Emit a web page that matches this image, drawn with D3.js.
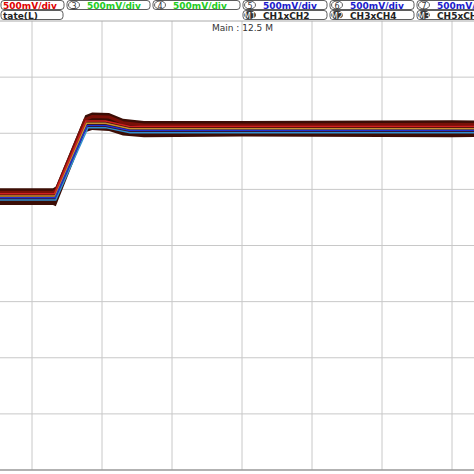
<!DOCTYPE html>
<html><head><meta charset="utf-8">
<script src="https://cdn.jsdelivr.net/npm/d3@7"></script>
<style>body{margin:0;background:#fff}text{font-family:"DejaVu Sans",sans-serif}</style>
</head><body><svg width="474" height="474"></svg>
<script>
var svg = d3.select('svg');

// time in divisions (0..10 across), level in divisions (0 top .. 8 bottom)
var timeDivs = d3.range(0, 11);
var levelDivs = d3.range(0, 9);

// envelope of the noisy band: [time, top, bottom]
var bandPts = [[-0.46,2.98,3.28],[0.3,2.98,3.28],[0.34,2.95,3.3],[0.76,1.68,1.98],[0.86,1.63,1.94],[1.1,1.64,1.96],[1.3,1.74,2.04],[1.6,1.78,2.07],[3,1.78,2.06],[6,1.77,2.07],[9.2,1.78,2.06]];
// traces inside the band: [time, level]
var redPts = [[-0.46,3.08],[0.32,3.08],[0.77,1.78],[1.05,1.78],[1.4,1.88],[9.2,1.88]];
var orangePts = [[-0.46,3.12],[0.33,3.12],[0.78,1.82],[1.05,1.82],[1.4,1.92],[9.2,1.92]];
var bluePts = [[-0.46,3.15],[0.33,3.15],[0.79,1.86],[1.05,1.86],[1.4,1.95],[9.2,1.95]];
var cyanPts = [[-0.46,3.19],[0.34,3.19],[0.8,1.9],[1.05,1.9],[1.4,1.99],[9.2,1.99]];

var row1 = [
  {n:'', t:'500mV/div', c:'#e00000', x:0},
  {n:'3', t:'500mV/div', c:'#22cc22', x:66},
  {n:'4', t:'500mV/div', c:'#22cc22', x:152},
  {n:'5', t:'500mV/div', c:'#1a1acc', x:242},
  {n:'6', t:'500mV/div', c:'#1a1acc', x:329},
  {n:'7', t:'500mV/div', c:'#1a1acc', x:416}
];
var row2 = [
  {n:'', t:'tate(L)', x:0},
  {n:'M1', t:'CH1xCH2', x:242},
  {n:'M2', t:'CH3xCH4', x:329},
  {n:'M3', t:'CH5xCH6', x:416}
];

var x = d3.scaleLinear().domain([0, 10]).range([32, 732]);
var y = d3.scaleLinear().domain([0, 8]).range([21, 470]);

// grid
svg.selectAll('.v').data(timeDivs).enter().append('line')
  .attr('x1', d => x(d)).attr('x2', d => x(d)).attr('y1', 21).attr('y2', 470)
  .attr('stroke', '#c8c8c8').attr('stroke-width', 1);
svg.selectAll('.h').data(levelDivs.slice(1)).enter().append('line')
  .attr('x1', 0).attr('x2', 474).attr('y1', d => y(d)).attr('y2', d => y(d))
  .attr('stroke', d => d == 8 ? '#999' : '#c8c8c8').attr('stroke-width', d => d == 8 ? 1.5 : 1);

// band
var area = d3.area().x(d => x(d[0])).y0(d => y(d[1])).y1(d => y(d[2]));
svg.append('path').datum(bandPts).attr('d', area).attr('fill', '#3b0d05');
svg.append('path').datum(bandPts).attr('d', d3.line().x(d => x(d[0])).y(d => y(d[1]) + 4))
  .attr('fill', 'none').attr('stroke', '#7a1008').attr('stroke-width', 3);

var line = d3.line().x(d => x(d[0])).y(d => y(d[1]));
[[redPts,'#d02020'],[orangePts,'#c89030'],[bluePts,'#2030d0'],[cyanPts,'#3090d0']].forEach(function(s){
  svg.append('path').datum(s[0]).attr('d', line).attr('fill','none').attr('stroke', s[1]).attr('stroke-width', 1.5);
});

// header
svg.append('rect').attr('x',0).attr('y',0).attr('width',474).attr('height',21).attr('fill','#fff');
svg.append('line').attr('x1',0).attr('x2',474).attr('y1',21).attr('y2',21).attr('stroke','#aaa');
function seg(g, d, w, col) {
  g.append('rect').attr('x', d.x + 1).attr('y', 0.5).attr('width', w).attr('height', 9)
    .attr('rx', 3).attr('fill', '#fff').attr('stroke', '#333').attr('stroke-width', 0.8);
  var tx = d.x + 3;
  if (d.n) {
    g.append('ellipse').attr('cx', d.x + 8).attr('cy', 5).attr('rx', 5.5).attr('ry', 4)
      .attr('fill', d.n[0] == 'M' ? '#333' : '#fff').attr('stroke', '#333').attr('stroke-width', 0.8);
    g.append('text').attr('x', d.x + 8).attr('y', 8.5).attr('text-anchor','middle').attr('font-size', 8)
      .attr('fill', d.n[0] == 'M' ? '#fff' : '#333').text(d.n);
    tx = d.x + 21;
  }
  g.append('text').attr('x', tx).attr('y', 8.5).attr('font-size', 9).attr('font-weight','bold')
    .attr('fill', col).text(d.t);
}
row1.forEach(function(d, i){
  var w = (i < 5 ? row1[i+1].x : 480) - d.x - 3;
  seg(svg.append('g'), d, w, d.c);
});
row2.forEach(function(d, i){
  var g = svg.append('g').attr('transform','translate(0,10)');
  var w = i == 0 ? 62 : (i < 3 ? row2[i+1].x : 480) - d.x - 3;
  seg(g, d, w, '#222');
});
svg.append('text').attr('x', 212).attr('y', 31).attr('font-size', 9).attr('fill','#333').text('Main : 12.5 M');
</script></body></html>
